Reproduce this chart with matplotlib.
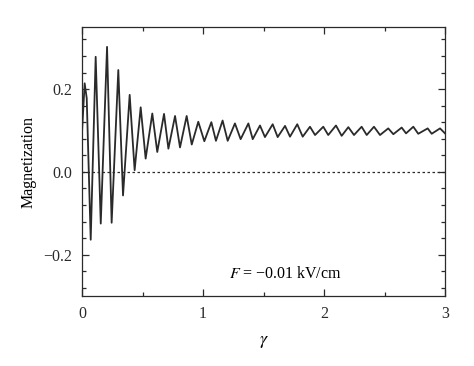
import matplotlib
matplotlib.use("Agg")
import matplotlib.pyplot as plt
from matplotlib.ticker import MultipleLocator, FixedLocator

# Extrema (gamma, magnetization)
gamma = [0.000, 0.022, 0.039, 0.072, 0.113, 0.155, 0.207, 0.245, 0.300, 0.339,
         0.394, 0.435, 0.485, 0.526, 0.581, 0.622, 0.678, 0.714, 0.769, 0.810,
         0.865, 0.907, 0.961, 1.011, 1.069, 1.107, 1.162, 1.204, 1.264, 1.311,
         1.375, 1.411, 1.471, 1.512, 1.576, 1.617, 1.678, 1.719, 1.779, 1.824,
         1.884, 1.926, 1.994, 2.035, 2.099, 2.146, 2.201, 2.248, 2.311, 2.353,
         2.413, 2.463, 2.531, 2.573, 2.642, 2.678, 2.738, 2.779, 2.857, 2.890,
         2.959, 3.000]
magnetization = [0.095, 0.214, 0.178, -0.164, 0.278, -0.125, 0.302, -0.123, 0.246, -0.057,
                 0.186, 0.004, 0.156, 0.032, 0.141, 0.048, 0.140, 0.056, 0.135, 0.059,
                 0.135, 0.066, 0.121, 0.074, 0.120, 0.075, 0.124, 0.075, 0.117, 0.079,
                 0.117, 0.079, 0.112, 0.084, 0.115, 0.084, 0.111, 0.085, 0.115, 0.085,
                 0.109, 0.089, 0.109, 0.089, 0.112, 0.087, 0.108, 0.089, 0.109, 0.089,
                 0.109, 0.089, 0.105, 0.091, 0.107, 0.093, 0.109, 0.092, 0.105, 0.092,
                 0.105, 0.093]

x_ticks = [0, 1, 2, 3]
y_ticks = [-0.2, 0.0, 0.2]
y_tick_labels = ["\u22120.2", "0.0", "0.2"]
annotation = "$F$ = \u22120.01\u2009kV/cm"

plt.rcParams['font.family'] = ['Liberation Serif', 'DejaVu Serif']
plt.rcParams['mathtext.fontset'] = 'stix'

fig = plt.figure(figsize=(4.74, 3.66), dpi=100)
ax = fig.add_axes([82/474, 1-296/366, (445-82)/474, (296-27)/366])

ax.plot(gamma, magnetization, color='#2a2a2a', lw=1.3)
ax.axhline(0, color='#2a2a2a', lw=0.9, ls=(0, (2, 2)))

ax.set_xlim(0, 3)
ax.set_ylim(-0.3, 0.35)
ax.set_xticks(x_ticks)
ax.set_xticklabels([str(t) for t in x_ticks])
ax.set_yticks(y_ticks)
ax.set_yticklabels(y_tick_labels)
ax.xaxis.set_minor_locator(MultipleLocator(0.5))
ax.yaxis.set_minor_locator(FixedLocator([-0.28, -0.24, -0.16, -0.12, -0.08, -0.04,
                                         0.04, 0.08, 0.12, 0.16, 0.24, 0.28, 0.32]))
ax.tick_params(which='both', direction='in', top=True, right=True,
               labelsize=11.5, colors='#2a2a2a', width=0.9)
ax.tick_params(which='major', length=5, pad=7)
ax.tick_params(which='minor', length=3)
for s in ax.spines.values():
    s.set_linewidth(0.9)
    s.set_color('#2a2a2a')

ax.set_ylabel("Magnetization", fontsize=11.5, labelpad=5)
ax.set_xlabel("$\\gamma$", fontsize=13, labelpad=8)
ax.text(1.68, -0.246, annotation, fontsize=11.5, ha='center', va='center')

fig.savefig("out.png", dpi=100)
